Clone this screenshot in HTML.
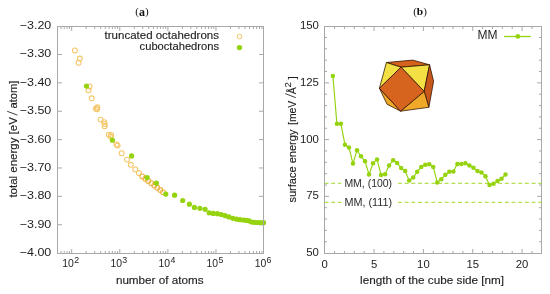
<!DOCTYPE html>
<html><head><meta charset="utf-8"><style>html,body{margin:0;padding:0;background:#fff;overflow:hidden}svg{display:block;will-change:transform}text.e{stroke:#1e1e1e;stroke-width:0.14px}</style></head>
<body><svg width="550" height="294" viewBox="0 0 550 294">
<rect x="0" y="0" width="550" height="294" fill="#fff"/>
<text x="141.9" y="14.9" font-family="Liberation Serif" font-size="11" text-anchor="middle" fill="#111">(<tspan font-weight="bold" font-size="12" dy="1.1">a</tspan><tspan dy="-1.1">)</tspan></text>
<text x="420" y="14.9" font-family="Liberation Serif" font-size="11" text-anchor="middle" fill="#111">(<tspan font-weight="bold" font-size="11.4" dy="0.4">b</tspan><tspan dy="-0.4">)</tspan></text>
<text x="51.3" y="29.10" font-family="Liberation Sans" font-size="11.3" text-anchor="end" textLength="31.6" lengthAdjust="spacingAndGlyphs" fill="#1e1e1e">&#8722;3.20</text>
<text x="51.3" y="57.48" font-family="Liberation Sans" font-size="11.3" text-anchor="end" textLength="31.6" lengthAdjust="spacingAndGlyphs" fill="#1e1e1e">&#8722;3.30</text>
<text x="51.3" y="85.85" font-family="Liberation Sans" font-size="11.3" text-anchor="end" textLength="31.6" lengthAdjust="spacingAndGlyphs" fill="#1e1e1e">&#8722;3.40</text>
<text x="51.3" y="114.22" font-family="Liberation Sans" font-size="11.3" text-anchor="end" textLength="31.6" lengthAdjust="spacingAndGlyphs" fill="#1e1e1e">&#8722;3.50</text>
<text x="51.3" y="142.60" font-family="Liberation Sans" font-size="11.3" text-anchor="end" textLength="31.6" lengthAdjust="spacingAndGlyphs" fill="#1e1e1e">&#8722;3.60</text>
<text x="51.3" y="170.97" font-family="Liberation Sans" font-size="11.3" text-anchor="end" textLength="31.6" lengthAdjust="spacingAndGlyphs" fill="#1e1e1e">&#8722;3.70</text>
<text x="51.3" y="199.35" font-family="Liberation Sans" font-size="11.3" text-anchor="end" textLength="31.6" lengthAdjust="spacingAndGlyphs" fill="#1e1e1e">&#8722;3.80</text>
<text x="51.3" y="227.73" font-family="Liberation Sans" font-size="11.3" text-anchor="end" textLength="31.6" lengthAdjust="spacingAndGlyphs" fill="#1e1e1e">&#8722;3.90</text>
<text x="51.3" y="256.10" font-family="Liberation Sans" font-size="11.3" text-anchor="end" textLength="31.6" lengthAdjust="spacingAndGlyphs" fill="#1e1e1e">&#8722;4.00</text>
<text x="62.28" y="267.0" font-family="Liberation Sans" font-size="11" fill="#1e1e1e"><tspan textLength="11.6" lengthAdjust="spacingAndGlyphs">10</tspan><tspan font-size="8.8" dx="0.3" dy="-4.0">2</tspan></text>
<text x="110.38" y="267.0" font-family="Liberation Sans" font-size="11" fill="#1e1e1e"><tspan textLength="11.6" lengthAdjust="spacingAndGlyphs">10</tspan><tspan font-size="8.8" dx="0.3" dy="-4.0">3</tspan></text>
<text x="158.48" y="267.0" font-family="Liberation Sans" font-size="11" fill="#1e1e1e"><tspan textLength="11.6" lengthAdjust="spacingAndGlyphs">10</tspan><tspan font-size="8.8" dx="0.3" dy="-4.0">4</tspan></text>
<text x="206.58" y="267.0" font-family="Liberation Sans" font-size="11" fill="#1e1e1e"><tspan textLength="11.6" lengthAdjust="spacingAndGlyphs">10</tspan><tspan font-size="8.8" dx="0.3" dy="-4.0">5</tspan></text>
<text x="254.68" y="267.0" font-family="Liberation Sans" font-size="11" fill="#1e1e1e"><tspan textLength="11.6" lengthAdjust="spacingAndGlyphs">10</tspan><tspan font-size="8.8" dx="0.3" dy="-4.0">6</tspan></text>
<path d="M57.5,54.48h4.5M263.5,54.48h-4.5M57.5,82.85h4.5M263.5,82.85h-4.5M57.5,111.22h4.5M263.5,111.22h-4.5M57.5,139.60h4.5M263.5,139.60h-4.5M57.5,167.97h4.5M263.5,167.97h-4.5M57.5,196.35h4.5M263.5,196.35h-4.5M57.5,224.73h4.5M263.5,224.73h-4.5M61.01,253.5v-2.5M61.01,26.5v2.5M64.23,253.5v-2.5M64.23,26.5v2.5M67.02,253.5v-2.5M67.02,26.5v2.5M69.48,253.5v-2.5M69.48,26.5v2.5M71.68,253.5v-4.5M71.68,26.5v4.5M86.16,253.5v-2.5M86.16,26.5v2.5M94.63,253.5v-2.5M94.63,26.5v2.5M100.64,253.5v-2.5M100.64,26.5v2.5M105.30,253.5v-2.5M105.30,26.5v2.5M109.11,253.5v-2.5M109.11,26.5v2.5M112.33,253.5v-2.5M112.33,26.5v2.5M115.12,253.5v-2.5M115.12,26.5v2.5M117.58,253.5v-2.5M117.58,26.5v2.5M119.78,253.5v-4.5M119.78,26.5v4.5M134.26,253.5v-2.5M134.26,26.5v2.5M142.73,253.5v-2.5M142.73,26.5v2.5M148.74,253.5v-2.5M148.74,26.5v2.5M153.40,253.5v-2.5M153.40,26.5v2.5M157.21,253.5v-2.5M157.21,26.5v2.5M160.43,253.5v-2.5M160.43,26.5v2.5M163.22,253.5v-2.5M163.22,26.5v2.5M165.68,253.5v-2.5M165.68,26.5v2.5M167.88,253.5v-4.5M167.88,26.5v4.5M182.36,253.5v-2.5M182.36,26.5v2.5M190.83,253.5v-2.5M190.83,26.5v2.5M196.84,253.5v-2.5M196.84,26.5v2.5M201.50,253.5v-2.5M201.50,26.5v2.5M205.31,253.5v-2.5M205.31,26.5v2.5M208.53,253.5v-2.5M208.53,26.5v2.5M211.32,253.5v-2.5M211.32,26.5v2.5M213.78,253.5v-2.5M213.78,26.5v2.5M215.98,253.5v-4.5M215.98,26.5v4.5M230.46,253.5v-2.5M230.46,26.5v2.5M238.93,253.5v-2.5M238.93,26.5v2.5M244.94,253.5v-2.5M244.94,26.5v2.5M249.60,253.5v-2.5M249.60,26.5v2.5M253.41,253.5v-2.5M253.41,26.5v2.5M256.63,253.5v-2.5M256.63,26.5v2.5M259.42,253.5v-2.5M259.42,26.5v2.5M261.88,253.5v-2.5M261.88,26.5v2.5" stroke="#a8a8a8" stroke-width="1" fill="none"/>
<text class="e" x="115.9" y="284.2" font-family="Liberation Sans" font-size="11" textLength="87.6" lengthAdjust="spacingAndGlyphs" fill="#1e1e1e">number of atoms</text>
<text class="e" transform="translate(16.6,197.6) rotate(-90)" font-family="Liberation Sans" font-size="11" fill="#1e1e1e"><tspan x="0" y="0" textLength="80.5" lengthAdjust="spacingAndGlyphs">total energy [eV</tspan><tspan x="89.0" y="0" textLength="28.1" lengthAdjust="spacingAndGlyphs">atom]</tspan></text>
<path d="M7.2,111.3L17.4,115.1M285.2,93.6L295.8,97.7" stroke="#1e1e1e" stroke-width="0.85" fill="none"/>
<text class="e" x="104.6" y="39.1" font-family="Liberation Sans" font-size="11" textLength="114.4" lengthAdjust="spacingAndGlyphs" fill="#1e1e1e">truncated octahedrons</text>
<text class="e" x="139.6" y="50.1" font-family="Liberation Sans" font-size="11" textLength="79.4" lengthAdjust="spacingAndGlyphs" fill="#1e1e1e">cuboctahedrons</text>
<circle cx="239.5" cy="36.5" r="2.3" stroke="#f4c666" stroke-width="1" fill="none"/>
<circle cx="239.5" cy="47.6" r="2.7" fill="#95d30e"/>
<text x="318.9" y="256.00" font-family="Liberation Sans" font-size="11.4" text-anchor="end" fill="#1e1e1e">50</text>
<text x="318.9" y="199.25" font-family="Liberation Sans" font-size="11.4" text-anchor="end" fill="#1e1e1e">75</text>
<text x="318.9" y="142.50" font-family="Liberation Sans" font-size="11.4" text-anchor="end" fill="#1e1e1e">100</text>
<text x="318.9" y="85.75" font-family="Liberation Sans" font-size="11.4" text-anchor="end" fill="#1e1e1e">125</text>
<text x="318.9" y="29.00" font-family="Liberation Sans" font-size="11.4" text-anchor="end" fill="#1e1e1e">150</text>
<text x="324.70" y="267.7" font-family="Liberation Sans" font-size="11.3" text-anchor="middle" fill="#1e1e1e">0</text>
<text x="374.05" y="267.7" font-family="Liberation Sans" font-size="11.3" text-anchor="middle" fill="#1e1e1e">5</text>
<text x="423.40" y="267.7" font-family="Liberation Sans" font-size="11.3" text-anchor="middle" fill="#1e1e1e">10</text>
<text x="472.75" y="267.7" font-family="Liberation Sans" font-size="11.3" text-anchor="middle" fill="#1e1e1e">15</text>
<text x="522.10" y="267.7" font-family="Liberation Sans" font-size="11.3" text-anchor="middle" fill="#1e1e1e">20</text>
<path d="M324.5,241.75h2.5M541.5,241.75h-2.5M324.5,230.40h2.5M541.5,230.40h-2.5M324.5,219.05h2.5M541.5,219.05h-2.5M324.5,207.70h2.5M541.5,207.70h-2.5M324.5,196.35h4.5M541.5,196.35h-4.5M324.5,185.00h2.5M541.5,185.00h-2.5M324.5,173.65h2.5M541.5,173.65h-2.5M324.5,162.30h2.5M541.5,162.30h-2.5M324.5,150.95h2.5M541.5,150.95h-2.5M324.5,139.60h4.5M541.5,139.60h-4.5M324.5,128.25h2.5M541.5,128.25h-2.5M324.5,116.90h2.5M541.5,116.90h-2.5M324.5,105.55h2.5M541.5,105.55h-2.5M324.5,94.20h2.5M541.5,94.20h-2.5M324.5,82.85h4.5M541.5,82.85h-4.5M324.5,71.50h2.5M541.5,71.50h-2.5M324.5,60.15h2.5M541.5,60.15h-2.5M324.5,48.80h2.5M541.5,48.80h-2.5M324.5,37.45h2.5M541.5,37.45h-2.5M334.57,253.5v-2.5M334.57,26.5v2.5M344.44,253.5v-2.5M344.44,26.5v2.5M354.31,253.5v-2.5M354.31,26.5v2.5M364.18,253.5v-2.5M364.18,26.5v2.5M374.05,253.5v-4.5M374.05,26.5v4.5M383.92,253.5v-2.5M383.92,26.5v2.5M393.79,253.5v-2.5M393.79,26.5v2.5M403.66,253.5v-2.5M403.66,26.5v2.5M413.53,253.5v-2.5M413.53,26.5v2.5M423.40,253.5v-4.5M423.40,26.5v4.5M433.27,253.5v-2.5M433.27,26.5v2.5M443.14,253.5v-2.5M443.14,26.5v2.5M453.01,253.5v-2.5M453.01,26.5v2.5M462.88,253.5v-2.5M462.88,26.5v2.5M472.75,253.5v-4.5M472.75,26.5v4.5M482.62,253.5v-2.5M482.62,26.5v2.5M492.49,253.5v-2.5M492.49,26.5v2.5M502.36,253.5v-2.5M502.36,26.5v2.5M512.23,253.5v-2.5M512.23,26.5v2.5M522.10,253.5v-4.5M522.10,26.5v4.5M531.97,253.5v-2.5M531.97,26.5v2.5" stroke="#a8a8a8" stroke-width="1" fill="none"/>
<rect x="324.5" y="26.5" width="217.0" height="227.0" stroke="#a8a8a8" stroke-width="1" fill="none"/>
<text class="e" x="360.1" y="284.2" font-family="Liberation Sans" font-size="11" textLength="144" lengthAdjust="spacingAndGlyphs" fill="#1e1e1e">length of the cube side [nm]</text>
<text class="e" transform="translate(295.6,202.6) rotate(-90)" font-family="Liberation Sans" font-size="11" fill="#1e1e1e"><tspan x="0" y="0" textLength="73" lengthAdjust="spacingAndGlyphs">surface energy</tspan><tspan x="77.6" y="0" textLength="24.3" lengthAdjust="spacingAndGlyphs">[meV</tspan><tspan x="108.3" y="0" textLength="7" lengthAdjust="spacingAndGlyphs">&#197;</tspan><tspan x="115.0" y="-4.6" font-size="9.6">2</tspan><tspan x="123.4" y="0">]</tspan></text>
<line x1="324.5" y1="183.3" x2="541.5" y2="183.3" stroke="#a2d82a" stroke-width="1.0" stroke-dasharray="3.9 2.78"/>
<line x1="324.5" y1="202.3" x2="541.5" y2="202.3" stroke="#a2d82a" stroke-width="1.0" stroke-dasharray="3.9 2.78"/>
<rect x="341.3" y="178" width="56.2" height="11" fill="#fff"/>
<rect x="341.3" y="197" width="56.2" height="11" fill="#fff"/>
<text x="344.4" y="186.5" font-family="Liberation Sans" font-size="10.3" textLength="47.7" lengthAdjust="spacingAndGlyphs" fill="#2a2a2a">MM, (100)</text>
<text x="344.4" y="205.6" font-family="Liberation Sans" font-size="10.3" textLength="47.7" lengthAdjust="spacingAndGlyphs" fill="#2a2a2a">MM, (111)</text>
<polyline points="332.90,75.90 336.91,123.80 340.93,123.80 344.94,144.70 348.96,147.40 352.97,163.60 356.99,150.30 361.00,156.20 365.02,161.30 369.03,174.50 373.05,163.20 377.06,159.40 381.08,175.00 385.09,174.30 389.11,165.50 393.12,160.20 397.14,162.90 401.15,168.00 405.17,171.10 409.18,180.60 413.20,177.60 417.21,171.80 421.23,167.00 425.25,164.70 429.26,164.30 433.27,167.00 437.29,182.40 441.30,179.30 445.32,174.80 449.33,171.80 453.35,171.50 457.36,163.90 461.38,164.00 465.39,163.20 469.41,165.60 473.42,167.70 477.44,171.10 481.45,172.40 485.47,176.20 489.48,185.00 493.50,183.70 497.51,180.90 501.53,178.70 505.54,174.50" stroke="#95d30e" stroke-width="1.15" fill="none"/>
<circle cx="332.90" cy="75.90" r="2.25" fill="#95d30e"/>
<circle cx="336.91" cy="123.80" r="2.25" fill="#95d30e"/>
<circle cx="340.93" cy="123.80" r="2.25" fill="#95d30e"/>
<circle cx="344.94" cy="144.70" r="2.25" fill="#95d30e"/>
<circle cx="348.96" cy="147.40" r="2.25" fill="#95d30e"/>
<circle cx="352.97" cy="163.60" r="2.25" fill="#95d30e"/>
<circle cx="356.99" cy="150.30" r="2.25" fill="#95d30e"/>
<circle cx="361.00" cy="156.20" r="2.25" fill="#95d30e"/>
<circle cx="365.02" cy="161.30" r="2.25" fill="#95d30e"/>
<circle cx="369.03" cy="174.50" r="2.25" fill="#95d30e"/>
<circle cx="373.05" cy="163.20" r="2.25" fill="#95d30e"/>
<circle cx="377.06" cy="159.40" r="2.25" fill="#95d30e"/>
<circle cx="381.08" cy="175.00" r="2.25" fill="#95d30e"/>
<circle cx="385.09" cy="174.30" r="2.25" fill="#95d30e"/>
<circle cx="389.11" cy="165.50" r="2.25" fill="#95d30e"/>
<circle cx="393.12" cy="160.20" r="2.25" fill="#95d30e"/>
<circle cx="397.14" cy="162.90" r="2.25" fill="#95d30e"/>
<circle cx="401.15" cy="168.00" r="2.25" fill="#95d30e"/>
<circle cx="405.17" cy="171.10" r="2.25" fill="#95d30e"/>
<circle cx="409.18" cy="180.60" r="2.25" fill="#95d30e"/>
<circle cx="413.20" cy="177.60" r="2.25" fill="#95d30e"/>
<circle cx="417.21" cy="171.80" r="2.25" fill="#95d30e"/>
<circle cx="421.23" cy="167.00" r="2.25" fill="#95d30e"/>
<circle cx="425.25" cy="164.70" r="2.25" fill="#95d30e"/>
<circle cx="429.26" cy="164.30" r="2.25" fill="#95d30e"/>
<circle cx="433.27" cy="167.00" r="2.25" fill="#95d30e"/>
<circle cx="437.29" cy="182.40" r="2.25" fill="#95d30e"/>
<circle cx="441.30" cy="179.30" r="2.25" fill="#95d30e"/>
<circle cx="445.32" cy="174.80" r="2.25" fill="#95d30e"/>
<circle cx="449.33" cy="171.80" r="2.25" fill="#95d30e"/>
<circle cx="453.35" cy="171.50" r="2.25" fill="#95d30e"/>
<circle cx="457.36" cy="163.90" r="2.25" fill="#95d30e"/>
<circle cx="461.38" cy="164.00" r="2.25" fill="#95d30e"/>
<circle cx="465.39" cy="163.20" r="2.25" fill="#95d30e"/>
<circle cx="469.41" cy="165.60" r="2.25" fill="#95d30e"/>
<circle cx="473.42" cy="167.70" r="2.25" fill="#95d30e"/>
<circle cx="477.44" cy="171.10" r="2.25" fill="#95d30e"/>
<circle cx="481.45" cy="172.40" r="2.25" fill="#95d30e"/>
<circle cx="485.47" cy="176.20" r="2.25" fill="#95d30e"/>
<circle cx="489.48" cy="185.00" r="2.25" fill="#95d30e"/>
<circle cx="493.50" cy="183.70" r="2.25" fill="#95d30e"/>
<circle cx="497.51" cy="180.90" r="2.25" fill="#95d30e"/>
<circle cx="501.53" cy="178.70" r="2.25" fill="#95d30e"/>
<circle cx="505.54" cy="174.50" r="2.25" fill="#95d30e"/>
<text x="477.6" y="38.7" font-family="Liberation Sans" font-size="12" fill="#1e1e1e">MM</text>
<line x1="504.1" y1="36.5" x2="530.8" y2="36.5" stroke="#95d30e" stroke-width="1.3"/>
<circle cx="517.8" cy="36.4" r="2.4" fill="#95d30e"/>
<polygon points="386.4,62.5 412.7,60.1 429.6,64.8 401,67.2" fill="#d4621c" stroke="#2a1000" stroke-width="0.75" stroke-linejoin="round"/>
<polygon points="386.4,62.5 401,67.2 379.4,88.3" fill="#f2e044" stroke="#2a1000" stroke-width="0.75" stroke-linejoin="round"/>
<polygon points="401,67.2 429.6,64.8 424.2,91.4" fill="#f2e044" stroke="#2a1000" stroke-width="0.75" stroke-linejoin="round"/>
<polygon points="429.6,64.8 433.6,81.3 428.9,107.3 424.2,91.4" fill="#c8581a" stroke="#2a1000" stroke-width="0.75" stroke-linejoin="round"/>
<polygon points="379.4,88.3 400.6,111.2 387,104.2" fill="#f0a828" stroke="#2a1000" stroke-width="0.75" stroke-linejoin="round"/>
<polygon points="424.2,91.4 428.9,107.3 400.6,111.2" fill="#f0a828" stroke="#2a1000" stroke-width="0.75" stroke-linejoin="round"/>
<polygon points="401,67.2 424.2,91.4 400.6,111.2 379.4,88.3" fill="#d7641e" stroke="#2a1000" stroke-width="0.75" stroke-linejoin="round"/>
<circle cx="74.9" cy="50.4" r="2.45" stroke="#f4c666" stroke-width="1.05" fill="none"/>
<circle cx="79.8" cy="58.6" r="2.45" stroke="#f4c666" stroke-width="1.05" fill="none"/>
<circle cx="78.6" cy="62.7" r="2.45" stroke="#f4c666" stroke-width="1.05" fill="none"/>
<circle cx="89.6" cy="86.5" r="2.45" stroke="#f4c666" stroke-width="1.05" fill="none"/>
<circle cx="88.5" cy="90.3" r="2.45" stroke="#f4c666" stroke-width="1.05" fill="none"/>
<circle cx="91.7" cy="98.3" r="2.45" stroke="#f4c666" stroke-width="1.05" fill="none"/>
<circle cx="95.9" cy="108.7" r="2.45" stroke="#f4c666" stroke-width="1.05" fill="none"/>
<circle cx="97.3" cy="107.3" r="2.45" stroke="#f4c666" stroke-width="1.05" fill="none"/>
<circle cx="97.1" cy="109.3" r="2.45" stroke="#f4c666" stroke-width="1.05" fill="none"/>
<circle cx="100.6" cy="119.6" r="2.45" stroke="#f4c666" stroke-width="1.05" fill="none"/>
<circle cx="104.2" cy="122.1" r="2.45" stroke="#f4c666" stroke-width="1.05" fill="none"/>
<circle cx="104.8" cy="124.1" r="2.45" stroke="#f4c666" stroke-width="1.05" fill="none"/>
<circle cx="104.6" cy="126.2" r="2.45" stroke="#f4c666" stroke-width="1.05" fill="none"/>
<circle cx="108.7" cy="134.6" r="2.45" stroke="#f4c666" stroke-width="1.05" fill="none"/>
<circle cx="111.1" cy="135.0" r="2.45" stroke="#f4c666" stroke-width="1.05" fill="none"/>
<circle cx="110.6" cy="136.6" r="2.45" stroke="#f4c666" stroke-width="1.05" fill="none"/>
<circle cx="116.5" cy="144.5" r="2.45" stroke="#f4c666" stroke-width="1.05" fill="none"/>
<circle cx="117.6" cy="145.6" r="2.45" stroke="#f4c666" stroke-width="1.05" fill="none"/>
<circle cx="121.7" cy="153.2" r="2.45" stroke="#f4c666" stroke-width="1.05" fill="none"/>
<circle cx="127.0" cy="159.6" r="2.45" stroke="#f4c666" stroke-width="1.05" fill="none"/>
<circle cx="130.8" cy="164.8" r="2.45" stroke="#f4c666" stroke-width="1.05" fill="none"/>
<circle cx="135.3" cy="169.4" r="2.45" stroke="#f4c666" stroke-width="1.05" fill="none"/>
<circle cx="138.9" cy="173.0" r="2.45" stroke="#f4c666" stroke-width="1.05" fill="none"/>
<circle cx="142.3" cy="176.4" r="2.45" stroke="#f0b245" stroke-width="1.1" fill="none"/>
<circle cx="145.3" cy="178.68" r="2.45" stroke="#f0b245" stroke-width="1.1" fill="none"/>
<circle cx="148.3" cy="180.96" r="2.45" stroke="#f0b245" stroke-width="1.1" fill="none"/>
<circle cx="151.3" cy="183.24" r="2.45" stroke="#f0b245" stroke-width="1.1" fill="none"/>
<circle cx="154.3" cy="185.52" r="2.45" stroke="#f0b245" stroke-width="1.1" fill="none"/>
<circle cx="157.3" cy="187.8" r="2.45" stroke="#f0b245" stroke-width="1.1" fill="none"/>
<circle cx="160.3" cy="190.08" r="2.45" stroke="#f0b245" stroke-width="1.1" fill="none"/>
<circle cx="163.0" cy="192.13" r="2.45" stroke="#f0b245" stroke-width="1.1" fill="none"/>
<circle cx="86.5" cy="86.0" r="2.6" fill="#95d30e"/>
<circle cx="112.4" cy="140.2" r="2.6" fill="#95d30e"/>
<circle cx="131.6" cy="155.9" r="2.6" fill="#95d30e"/>
<circle cx="147.1" cy="177.6" r="2.6" fill="#95d30e"/>
<circle cx="156.4" cy="183.2" r="2.6" fill="#95d30e"/>
<circle cx="165.8" cy="194.1" r="2.6" fill="#95d30e"/>
<circle cx="174.6" cy="195.2" r="2.6" fill="#95d30e"/>
<circle cx="182.7" cy="200.5" r="2.6" fill="#95d30e"/>
<circle cx="189.4" cy="204.2" r="2.6" fill="#95d30e"/>
<circle cx="194.4" cy="207.4" r="2.6" fill="#95d30e"/>
<circle cx="199.9" cy="208.3" r="2.6" fill="#95d30e"/>
<circle cx="205.1" cy="209.3" r="2.6" fill="#95d30e"/>
<circle cx="209.2" cy="212.8" r="2.6" fill="#95d30e"/>
<circle cx="213.2" cy="213.4" r="2.6" fill="#95d30e"/>
<circle cx="217.4" cy="213.7" r="2.6" fill="#95d30e"/>
<circle cx="221.3" cy="214.5" r="2.6" fill="#95d30e"/>
<circle cx="225.1" cy="215.7" r="2.6" fill="#95d30e"/>
<circle cx="228.9" cy="216.9" r="2.6" fill="#95d30e"/>
<circle cx="232.8" cy="218.3" r="2.6" fill="#95d30e"/>
<circle cx="236.6" cy="219.2" r="2.6" fill="#95d30e"/>
<circle cx="240" cy="219.7" r="2.6" fill="#95d30e"/>
<circle cx="243.5" cy="220.0" r="2.6" fill="#95d30e"/>
<circle cx="246.5" cy="220.4" r="2.6" fill="#95d30e"/>
<circle cx="249" cy="220.8" r="2.6" fill="#95d30e"/>
<circle cx="251.5" cy="222.0" r="2.6" fill="#95d30e"/>
<circle cx="254" cy="222.3" r="2.6" fill="#95d30e"/>
<circle cx="257" cy="222.5" r="2.6" fill="#95d30e"/>
<circle cx="260" cy="222.6" r="2.6" fill="#95d30e"/>
<circle cx="263.5" cy="222.7" r="2.6" fill="#95d30e"/>
<rect x="57.5" y="26.5" width="206.0" height="227.0" stroke="#a8a8a8" stroke-width="1" fill="none"/>
</svg></body></html>
